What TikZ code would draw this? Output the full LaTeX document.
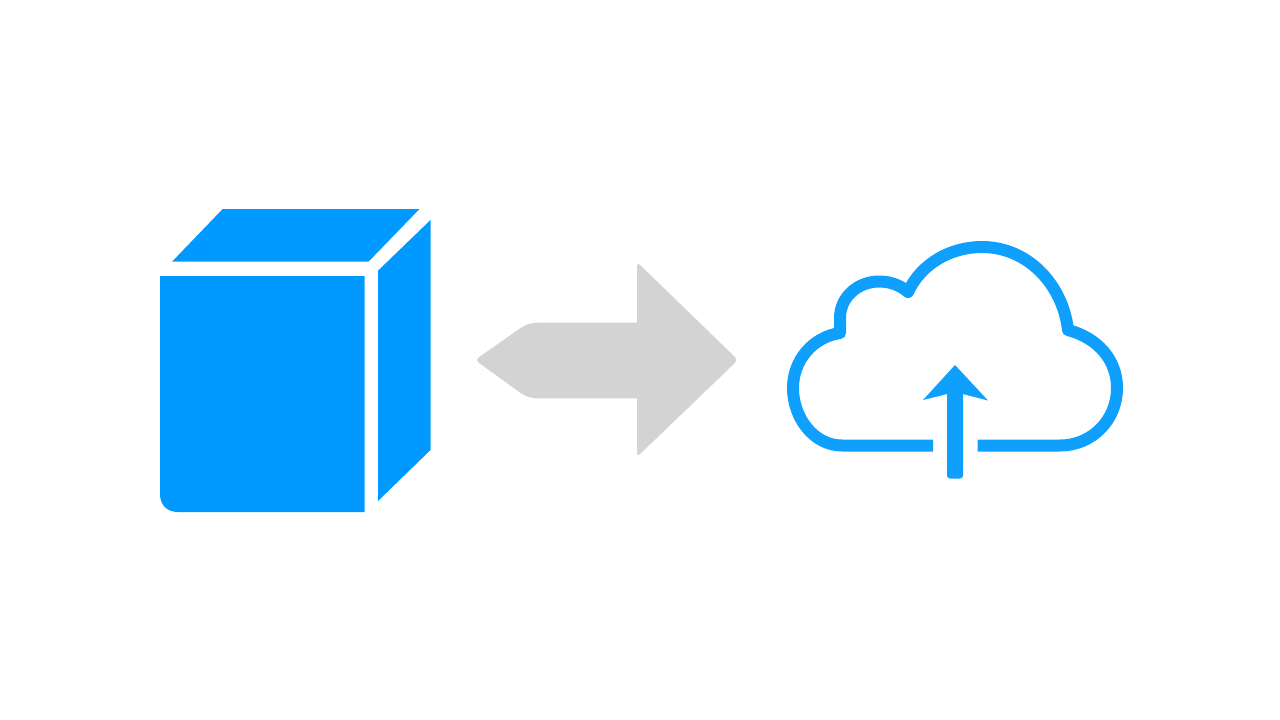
\documentclass[tikz,border=0pt]{standalone}
\usepackage{tikz}

\definecolor{boxblue}{HTML}{0099FF}
\definecolor{cloudblue}{HTML}{0F9FFC}
\definecolor{arrowgray}{HTML}{D3D3D3}

\begin{document}
\begin{tikzpicture}[x=1pt, y=-1pt, box face/.style={fill=boxblue}, flow arrow/.style={fill=arrowgray, rounded corners=4pt}, cloud line/.style={draw=cloudblue, line width=12pt, line join=round}, cloud arrow/.style={fill=cloudblue}]
   \useasboundingbox (0,0) rectangle (1280,720);
   \path[box face] (160,276) -- (364.5,276) -- (364.5,512) -- (178,512) .. controls (167,512) and (160,505) .. (160,494) -- cycle;
   \path[box face] (172,261.7) -- (222.7,209) -- (419.5,209) -- (368.5,261.7) -- cycle;
   \path[box face] (378,270.7) -- (430.5,220) -- (430.5,450) -- (378,501) -- cycle;
   \path[flow arrow] (475,360) -- (522,327) .. controls (528,324) and (534,322.7) .. (541,322.7) -- (660,322.7) -- (660,398.3) -- (541,398.3) .. controls (534,398.3) and (528,397) .. (522,394) -- cycle;
   \path[flow arrow] (637,262) -- (738,360) -- (637,457) -- cycle;
   \draw[cloud line] (933,445.5) -- (842,445.5) .. controls (814,445.5) and (793,418) .. (793,388) .. controls (793,360) and (813,337) .. (840,333) -- (840,318) .. controls (840,297) and (858,281.5) .. (879,281.5) .. controls (890,281.5) and (900,285) .. (908,292) .. controls (921,264) and (950,247) .. (982,247) .. controls (1028,247) and (1063,285) .. (1068,330) .. controls (1098,338) and (1117,360) .. (1117,388) .. controls (1117,420) and (1092,445.5) .. (1060,445.5) -- (977.5,445.5);
   \path[cloud arrow, rounded corners=3pt] (947,385) -- (963,385) -- (963,478.5) -- (947,478.5) -- cycle;
   \path[cloud arrow] (955,365) -- (988,400.5) -- (955,392) -- (923,400) -- cycle;
\end{tikzpicture}
\end{document}
